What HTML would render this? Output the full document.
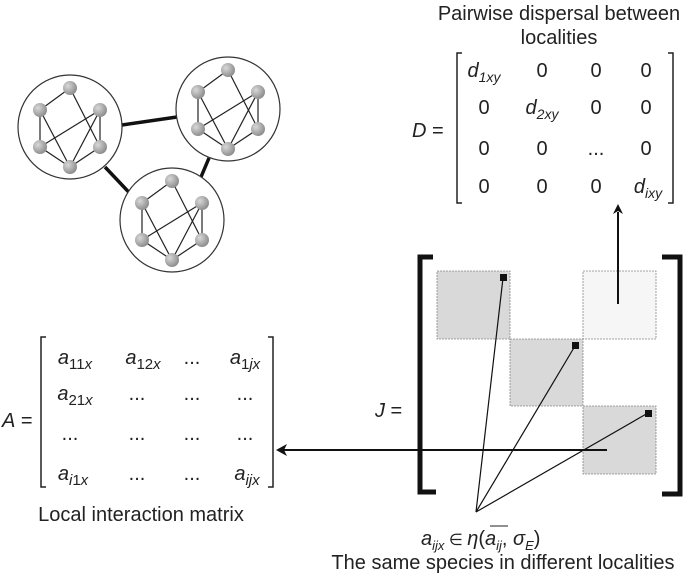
<!DOCTYPE html>
<html><head><meta charset="utf-8"><style>
html,body{margin:0;padding:0;background:#fff}
svg{display:block}
text{font-family:"Liberation Sans",sans-serif;fill:#222}
</style></head><body>
<svg width="685" height="576" viewBox="0 0 685 576" xmlns="http://www.w3.org/2000/svg">
<defs>
<radialGradient id="g" cx="0.35" cy="0.35" r="0.7"><stop offset="0" stop-color="#d8d8d8"/><stop offset="1" stop-color="#8a8a8a"/></radialGradient>
<g id="net">
<circle cx="0" cy="0" r="52" fill="#fff" stroke="#333" stroke-width="1.2"/>
<g stroke="#222" stroke-width="1.2">
<line x1="0" y1="-39" x2="-30" y2="-17"/>
<line x1="0" y1="-39" x2="30" y2="20"/>
<line x1="-30" y1="-17" x2="-30" y2="20"/>
<line x1="-30" y1="-17" x2="0" y2="40"/>
<line x1="-30" y1="20" x2="30" y2="-17"/>
<line x1="30" y1="-17" x2="0" y2="40"/>
<line x1="30" y1="-17" x2="30" y2="20"/>
<line x1="-30" y1="20" x2="0" y2="40"/>
<line x1="30" y1="20" x2="0" y2="40"/>
</g>
<g fill="url(#g)">
<circle cx="0" cy="-39" r="7"/><circle cx="-30" cy="-17" r="7"/><circle cx="30" cy="-17" r="7"/>
<circle cx="-30" cy="20" r="7"/><circle cx="30" cy="20" r="7"/><circle cx="0" cy="40" r="7"/>
</g>
</g>
</defs>
<g stroke="#111" stroke-width="3.5">
<line x1="122" y1="125" x2="177" y2="117"/>
<line x1="105" y1="167" x2="140" y2="204"/>
<line x1="209" y1="158" x2="193" y2="196"/>
</g>
<use href="#net" x="70" y="127"/>
<use href="#net" x="228" y="109"/>
<use href="#net" x="172" y="220"/>

<!-- D matrix -->
<text x="559" y="20" font-size="20" text-anchor="middle">Pairwise dispersal between</text>
<text x="559" y="44" font-size="20" text-anchor="middle">localities</text>
<text x="412" y="137" font-size="20"><tspan font-style="italic">D</tspan> =</text>
<path d="M462,53 H457 V203 H462" fill="none" stroke="#222" stroke-width="1.5"/>
<path d="M668,53 H673 V203 H668" fill="none" stroke="#222" stroke-width="1.5"/>
<g font-size="20" text-anchor="middle">
<text x="484" y="77"><tspan font-style="italic">d</tspan><tspan font-size="14" dy="5" font-style="italic">1xy</tspan></text>
<text x="542" y="77">0</text><text x="596" y="77">0</text><text x="646" y="77">0</text>
<text x="484" y="114">0</text>
<text x="542" y="114"><tspan font-style="italic">d</tspan><tspan font-size="14" dy="5" font-style="italic">2xy</tspan></text>
<text x="596" y="114">0</text><text x="646" y="114">0</text>
<text x="484" y="155">0</text><text x="542" y="155">0</text><text x="596" y="155">...</text><text x="646" y="155">0</text>
<text x="484" y="193">0</text><text x="542" y="193">0</text><text x="596" y="193">0</text>
<text x="648" y="193"><tspan font-style="italic">d</tspan><tspan font-size="14" dy="5" font-style="italic">ixy</tspan></text>
</g>

<!-- J matrix -->
<rect x="437" y="271" width="73" height="68" fill="#d9d9d9" stroke="#888" stroke-dasharray="2,1" stroke-width="0.8"/>
<rect x="583" y="271" width="73" height="68" fill="#f5f6f5" stroke="#888" stroke-dasharray="2,1" stroke-width="0.8"/>
<rect x="510" y="339" width="73" height="67" fill="#d9d9d9" stroke="#888" stroke-dasharray="2,1" stroke-width="0.8"/>
<rect x="583" y="406" width="73" height="68" fill="#d9d9d9" stroke="#888" stroke-dasharray="2,1" stroke-width="0.8"/>
<path d="M433,257 H420 V492 H436" fill="none" stroke="#111" stroke-width="5"/>
<path d="M662,257 H680 V494 H662" fill="none" stroke="#111" stroke-width="5"/>
<text x="375" y="417" font-size="20"><tspan font-style="italic">J</tspan> =</text>
<g fill="#111"><rect x="500" y="274" width="7" height="7"/><rect x="572" y="342" width="7" height="7"/><rect x="645" y="410" width="7" height="7"/></g>
<g stroke="#111" stroke-width="1.2">
<line x1="476" y1="512" x2="503" y2="278"/>
<line x1="476" y1="512" x2="575" y2="346"/>
<line x1="476" y1="512" x2="648" y2="413"/>
</g>
<line x1="618" y1="304" x2="618" y2="212" stroke="#111" stroke-width="2"/>
<path d="M618,204 L613,214 L618,211 L623,214 Z" fill="#111"/>
<line x1="607" y1="450" x2="284" y2="450" stroke="#111" stroke-width="2"/>
<path d="M276,450 L287,444 L284,450 L287,456 Z" fill="#111"/>

<!-- A matrix -->
<text x="2" y="427" font-size="20"><tspan font-style="italic">A</tspan> =</text>
<path d="M46,337 H41 V487 H46" fill="none" stroke="#222" stroke-width="1.5"/>
<path d="M268,337 H273 V487 H268" fill="none" stroke="#222" stroke-width="1.5"/>
<g font-size="20" text-anchor="middle">
<text x="75" y="364"><tspan font-style="italic">a</tspan><tspan font-size="15" dy="5">11</tspan><tspan font-size="15" font-style="italic">x</tspan></text>
<text x="143" y="364"><tspan font-style="italic">a</tspan><tspan font-size="15" dy="5">12</tspan><tspan font-size="15" font-style="italic">x</tspan></text>
<text x="192" y="364">...</text>
<text x="245" y="364"><tspan font-style="italic">a</tspan><tspan font-size="15" dy="5">1</tspan><tspan font-size="15" font-style="italic">jx</tspan></text>
<text x="75" y="400"><tspan font-style="italic">a</tspan><tspan font-size="15" dy="5">21</tspan><tspan font-size="15" font-style="italic">x</tspan></text>
<text x="137" y="400">...</text><text x="192" y="400">...</text><text x="245" y="400">...</text>
<text x="70" y="440">...</text><text x="137" y="440">...</text><text x="192" y="440">...</text><text x="245" y="440">...</text>
<text x="73" y="480"><tspan font-style="italic">a</tspan><tspan font-size="15" dy="5" font-style="italic">i</tspan><tspan font-size="15">1</tspan><tspan font-size="15" font-style="italic">x</tspan></text>
<text x="137" y="480">...</text><text x="192" y="480">...</text>
<text x="247" y="480"><tspan font-style="italic">a</tspan><tspan font-size="15" dy="5" font-style="italic">ijx</tspan></text>
</g>
<text x="141" y="521" font-size="20" text-anchor="middle">Local interaction matrix</text>

<!-- bottom -->
<text x="421" y="545" font-size="20"><tspan font-style="italic">a</tspan><tspan font-size="13" dy="5" font-style="italic">ijx</tspan><tspan dy="-5" font-size="16"> ∈ </tspan><tspan font-style="italic">η</tspan>(<tspan font-style="italic">a</tspan><tspan font-size="13" dy="5" font-style="italic">ij</tspan><tspan dy="-5">, </tspan><tspan font-style="italic">σ</tspan><tspan font-size="13" dy="5" font-style="italic">E</tspan><tspan dy="-5">)</tspan></text>
<line x1="490" y1="526" x2="508" y2="526" stroke="#222" stroke-width="1"/>
<text x="503" y="569" font-size="20" text-anchor="middle">The same species in different localities</text>
</svg>
</body></html>
